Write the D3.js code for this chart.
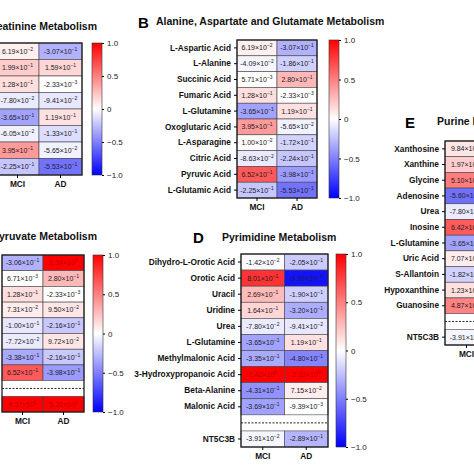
<!DOCTYPE html>
<html><head><meta charset="utf-8">
<script src="https://cdn.jsdelivr.net/npm/d3@7"></script>
<style>body{margin:0;background:#fff}text{font-family:"Liberation Sans",Arial,sans-serif}</style>
</head><body>
<script>
// values per panel, null = dashed separator row
const groups = ["MCI", "AD"];
const aLabels = ["L-Aspartic Acid","L-Alanine","Succinic Acid","Fumaric Acid","L-Glutamine","Oxoglutaric Acid","L-Asparagine","Citric Acid"];
const aMCI = [6.19e-2, 1.99e-1, 1.28e-1, -7.80e-2, -3.65e-1, -6.05e-2, 3.95e-1, -2.25e-1];
const aAD = [-3.07e-1, 1.59e-1, -2.33e-3, -9.41e-2, 1.19e-1, -1.33e-1, -5.65e-2, -5.53e-1];

const bLabels = ["L-Aspartic Acid","L-Alanine","Succinic Acid","Fumaric Acid","L-Glutamine","Oxoglutaric Acid","L-Asparagine","Citric Acid","Pyruvic Acid","L-Glutamic Acid"];
const bMCI = [6.19e-2, -4.09e-2, 5.71e-3, 1.28e-1, -3.65e-1, 3.95e-1, 1.00e-2, -8.63e-2, 6.52e-1, -2.25e-1];
const bAD = [-3.07e-1, -1.86e-1, 2.80e-1, -2.33e-3, 1.19e-1, -5.65e-2, -1.72e-1, -2.24e-1, -3.98e-1, -5.53e-1];

const cLabels = ["a","b","c","d","e","f","g","h","","NT5C3B"];
const cMCI = [-3.06e-1, 6.71e-3, 1.28e-1, 7.31e-2, -1.00e-1, -7.72e-2, -3.38e-1, 6.52e-1, null, 4.37];
const cAD = [1.34, 2.80e-1, -2.33e-3, 9.50e-2, -2.16e-1, 9.72e-2, -2.16e-1, -3.98e-1, null, 5.20];

const dLabels = ["Dihydro-L-Orotic Acid","Orotic Acid","Uracil","Uridine","Urea","L-Glutamine","Methylmalonic Acid","3-Hydroxypropanoic Acid","Beta-Alanine","Malonic Acid","","NT5C3B"];
const dMCI = [-1.42e-2, 8.01e-1, 2.69e-1, 1.64e-1, -7.80e-2, -3.65e-1, -3.35e-1, 1.42, -4.31e-1, -3.69e-1, null, -3.91e-2];
const dAD = [-2.05e-1, -9.29e-1, -1.90e-1, -3.20e-1, -9.41e-2, 1.19e-1, -4.80e-1, 2.33, 7.15e-2, -9.39e-3, null, -2.89e-1];

const eLabels = ["Xanthosine","Xanthine","Glycine","Adenosine","Urea","Inosine","L-Glutamine","Uric Acid","S-Allantoin","Hypoxanthine","Guanosine","","NT5C3B"];
const eMCI = [9.84e-2, 1.97e-1, 5.10e-1, -5.60e-1, -7.80e-2, 6.42e-1, -3.65e-1, 7.07e-2, -1.82e-1, 1.23e-1, 4.87e-1, null, -3.91e-2];
const eAD = [0, 0, 0, 0, 0, 0, 0, 0, 0, 0, 0, null, 0];

const barTicks = [1.0, 0.5, 0, -0.5, -1.0];

const svg = d3.select("body").append("svg").attr("width", 474).attr("height", 474);
const color = d3.scaleLinear().domain([-1, 0, 1]).range(["#0000ff", "#ffffff", "#ff0000"]).clamp(true);
function parts(v) {
  const [m, e] = v.toExponential(2).split("e");
  return [m + "\u00d710", String(+e).replace("-", "\u2212")];
}

function panel(o) {
  const g = svg.append("g");
  const x = d3.scaleBand().domain(groups).range([o.x0, o.x1]);
  const y = d3.scaleBand().domain(d3.range(o.labels.length)).range([o.y0, o.y1]);
  const cells = [];
  o.labels.forEach((l, i) => groups.forEach((k, j) => cells.push({i, k, v: o.vals[j][i]})));
  g.selectAll("rect.c").data(cells.filter(d => d.v !== null)).join("rect")
    .attr("x", d => x(d.k)).attr("y", d => y(d.i))
    .attr("width", x.bandwidth()).attr("height", y.bandwidth())
    .attr("fill", d => color(d.v)).attr("stroke", "#444").attr("stroke-width", 0.6);
  const t = g.selectAll("text.v").data(cells.filter(d => d.v !== null)).join("text")
    .attr("x", d => x(d.k) + x.bandwidth() / 2).attr("y", d => y(d.i) + y.bandwidth() / 2 + 2.5)
    .attr("text-anchor", "middle").attr("font-size", 7)
    .attr("fill", d => Math.abs(d.v) >= 1 ? "#b80000" : "#222");
  t.append("tspan").text(d => parts(d.v)[0]);
  t.append("tspan").attr("dy", -3).attr("font-size", 5).text(d => parts(d.v)[1]);
  o.labels.forEach((l, i) => {
    if (o.vals[0][i] === null) {
      g.append("line").attr("x1", o.x0).attr("x2", o.x1)
        .attr("y1", y(i) + y.bandwidth() / 2).attr("y2", y(i) + y.bandwidth() / 2)
        .attr("stroke", "#222").attr("stroke-dasharray", "2,1.5").attr("stroke-width", 1);
    }
  });
  g.append("rect").attr("x", o.x0).attr("y", o.y0).attr("width", o.x1 - o.x0).attr("height", o.y1 - o.y0)
    .attr("fill", "none").attr("stroke", "#222").attr("stroke-width", 1.3);
  if (o.showLabels) {
    const ya = d3.axisLeft(d3.scaleBand().domain(o.labels.map((l, i) => i)).range([o.y0, o.y1]))
      .tickSize(3).tickFormat(i => o.labels[i]);
    const ax = g.append("g").attr("transform", `translate(${o.x0},0)`).call(ya);
    ax.select(".domain").remove();
    ax.selectAll(".tick").filter(i => o.labels[i] === "").remove();
    ax.selectAll("text").attr("font-size", 8.3).attr("font-weight", "bold").attr("fill", "#111").attr("font-family", "Liberation Sans, Arial");
  }
  const xa = g.append("g").attr("transform", `translate(0,${o.y1})`).call(d3.axisBottom(x).tickSize(3).tickPadding(3));
  xa.select(".domain").remove();
  xa.selectAll("text").attr("font-size", 8.3).attr("font-weight", "bold").attr("fill", "#111").attr("font-family", "Liberation Sans, Arial");
  // colour bar
  if (o.bar) {
    const cy = d3.scaleLinear().domain([-1, 1]).range([o.y1, o.y0]);
    const gid = "grad" + o.id;
    const grad = svg.append("defs").append("linearGradient").attr("id", gid)
      .attr("x1", 0).attr("x2", 0).attr("y1", 1).attr("y2", 0);
    [-1, 0, 1].forEach(t => grad.append("stop").attr("offset", (t + 1) / 2).attr("stop-color", color(t)));
    g.append("rect").attr("x", o.bar).attr("y", o.y0).attr("width", 10).attr("height", o.y1 - o.y0)
      .attr("fill", `url(#${gid})`).attr("stroke", "#333").attr("stroke-width", 0.6);
    const ba = g.append("g").attr("transform", `translate(${o.bar + 10},0)`)
      .call(d3.axisRight(cy).tickValues(barTicks).tickSize(2).tickFormat(d => d === 0 ? "0" : d3.format(".1f")(d)));
    ba.select(".domain").remove();
    ba.selectAll("text").attr("font-size", 8).attr("fill", "#222").attr("font-family", "Liberation Sans, Arial");
  }
  if (o.letter) g.append("text").attr("x", o.letter[0]).attr("y", o.letter[1]).attr("font-size", 15).attr("font-weight", "bold").text(o.letterText);
  g.append("text").attr("x", o.title[0]).attr("y", o.title[1]).attr("text-anchor", o.title[2])
    .attr("font-size", 10.5).attr("font-weight", "bold").attr("fill", "#111").text(o.titleText);
}

panel({id: "a", labels: aLabels, vals: [aMCI, aAD], x0: -4, x1: 82, y0: 43, y1: 175, bar: 92,
  title: [97, 30, "end"], titleText: "Arginine and Creatinine Metabolism"});
panel({id: "b", labels: bLabels, vals: [bMCI, bAD], x0: 237, x1: 317, y0: 40, y1: 198, bar: 329, showLabels: true,
  letter: [138, 28], letterText: "B", title: [156, 25, "start"], titleText: "Alanine, Aspartate and Glutamate Metabolism"});
panel({id: "c", labels: cLabels, vals: [cMCI, cAD], x0: 2, x1: 84, y0: 255, y1: 412, bar: 93,
  title: [97, 240, "end"], titleText: "Pyruvate Metabolism"});
panel({id: "d", labels: dLabels, vals: [dMCI, dAD], x0: 241, x1: 328, y0: 254, y1: 447, bar: 336, showLabels: true,
  letter: [193, 243], letterText: "D", title: [222, 241, "start"], titleText: "Pyrimidine Metabolism"});
panel({id: "e", labels: eLabels, vals: [eMCI, eAD], x0: 445, x1: 531, y0: 141, y1: 345, showLabels: true,
  letter: [405, 128], letterText: "E", title: [437, 125, "start"], titleText: "Purine Metabolism"});
</script>
</body></html>
